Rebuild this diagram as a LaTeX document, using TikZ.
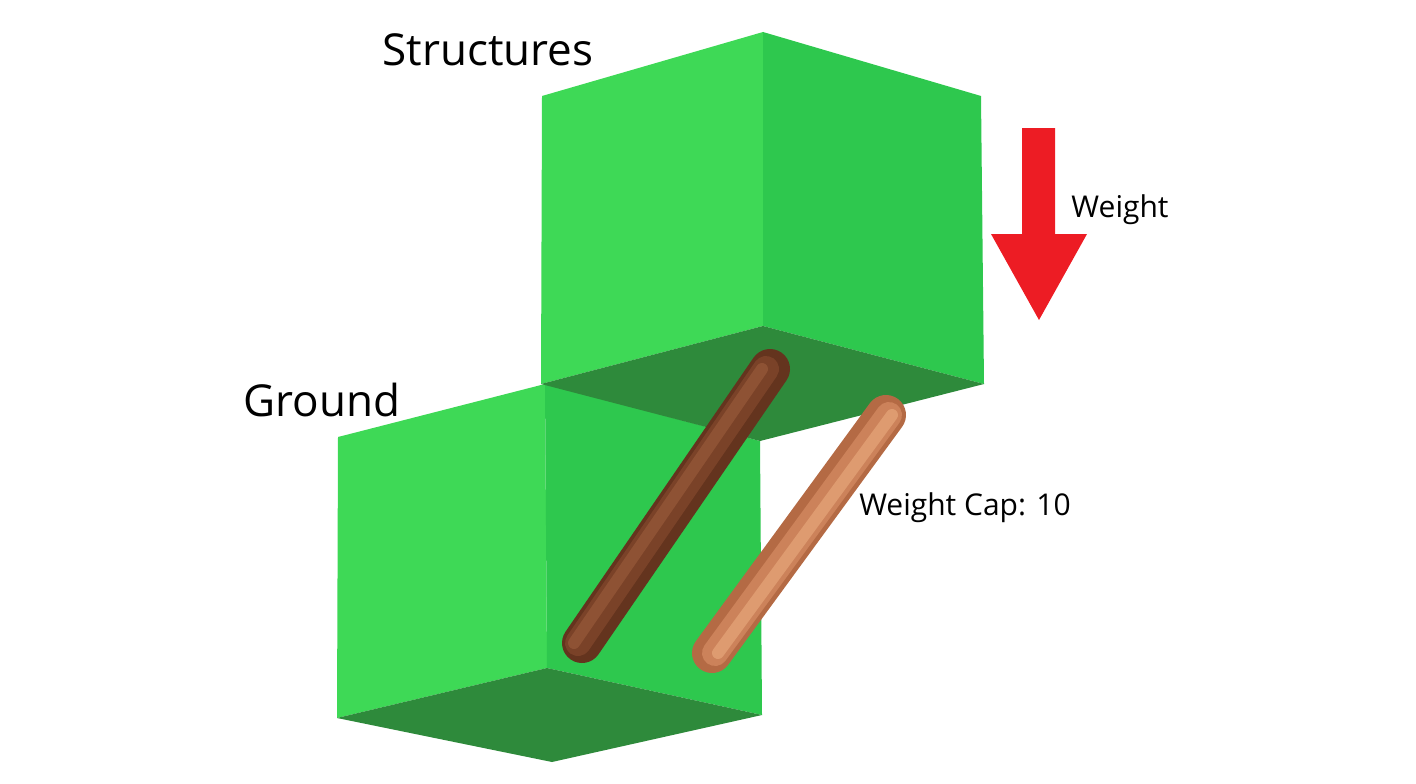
\documentclass[tikz,border=0pt]{standalone}
\usepackage{fontspec}
\setmainfont{Open Sans}
\begin{document}
\begin{tikzpicture}[x=1pt,y=-1pt,
  lg/.style={fill=green1},mg/.style={fill=green2},dg/.style={fill=green3},
  lbl/.style={inner sep=0pt,anchor=center}]
\definecolor{green1}{HTML}{3ED956}
\definecolor{green2}{HTML}{2EC84E}
\definecolor{green3}{HTML}{2E8A3B}
\definecolor{wred}{HTML}{ED1C24}
\useasboundingbox (0,0) rectangle (1416,784);
% ground cube
\fill[lg] (338,437) -- (545,384) -- (547,668) -- (337,718) -- cycle;
\fill[mg] (545,384) -- (760,441) -- (762,715) -- (547,668) -- cycle;
\fill[dg] (337,718) -- (547,668) -- (762,715) -- (552,762) -- cycle;
% structures cube
\fill[lg] (542,96) -- (763,32) -- (763,326) -- (541,384) -- cycle;
\fill[mg] (763,32) -- (981,96) -- (984,384) -- (763,326) -- cycle;
\fill[dg] (541,384) -- (763,326) -- (984,384) -- (760,441) -- cycle;
% rods
\coordinate (r1a) at (582,643); \coordinate (r1b) at (770,369);
\coordinate (r2a) at (712,653); \coordinate (r2b) at (886,415);
\draw[line width=40pt,line cap=round,color={rgb,255:red,100;green,52;blue,30}] (r1a) -- (r1b);
\draw[line width=26pt,line cap=round,color={rgb,255:red,122;green,66;blue,40}] ([xshift=-4pt]r1a) -- ([xshift=-4pt]r1b);
\draw[line width=12pt,line cap=round,color={rgb,255:red,142;green,82;blue,52}] ([xshift=-8pt]r1a) -- ([xshift=-8pt]r1b);
\draw[line width=40pt,line cap=round,color={rgb,255:red,180;green,106;blue,68}] (r2a) -- (r2b);
\draw[line width=26pt,line cap=round,color={rgb,255:red,204;green,130;blue,90}] ([xshift=3pt]r2a) -- ([xshift=3pt]r2b);
\draw[line width=12pt,line cap=round,color={rgb,255:red,222;green,155;blue,112}] ([xshift=6pt]r2a) -- ([xshift=6pt]r2b);
% arrow
\fill[wred] (1022,128) -- (1055,128) -- (1055,234) -- (1087,234) -- (1039,320) -- (991,234) -- (1022,234) -- cycle;
% labels
\node[lbl] (ts) at (488,50) {\fontsize{44}{52}\selectfont Structures};
\node[lbl] (tg) at (322,400) {\fontsize{44}{52}\selectfont Ground};
\node[lbl] (tw) at (1120,210) {\fontsize{30}{36}\selectfont Weight};
\node[lbl] (tc) at (965,508) {\fontsize{30}{36}\selectfont Weight Cap: 10};
\end{tikzpicture}
\end{document}
